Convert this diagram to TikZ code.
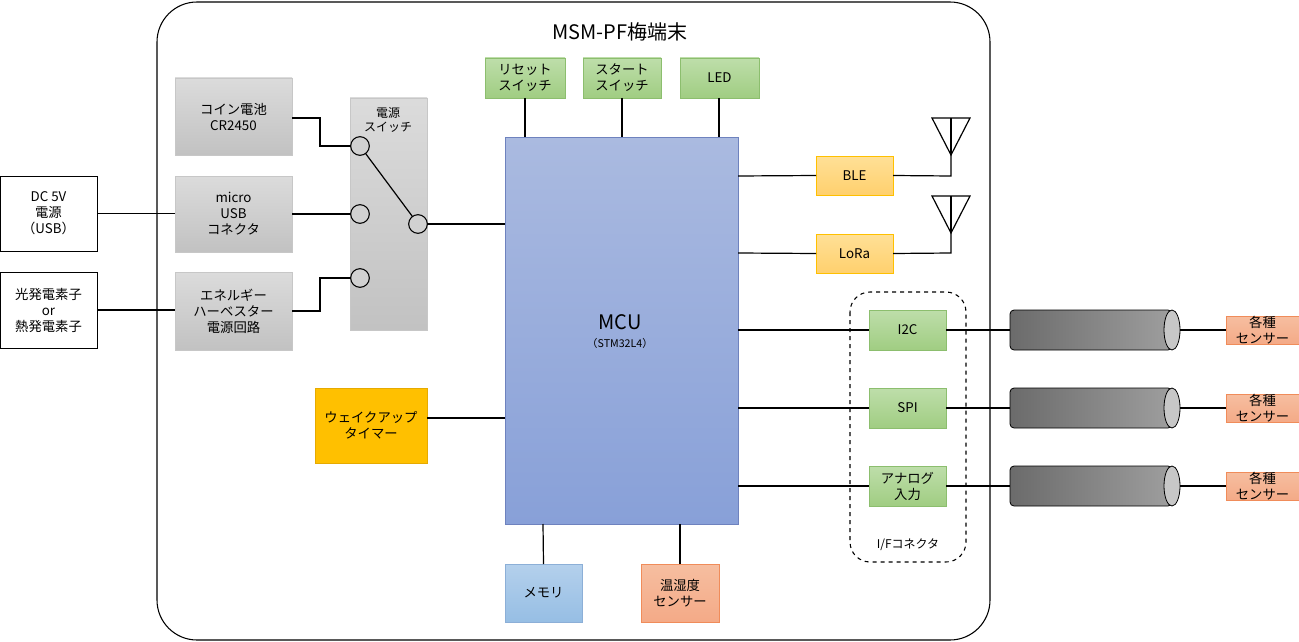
\documentclass[tikz,border=0pt]{standalone}
\usepackage{fontspec}
\setmainfont{Noto Sans CJK JP}
\begin{document}
\begin{tikzpicture}[x=0.75pt,y=-0.75pt,
  base/.style={draw,inner sep=0pt,outer sep=0pt,align=center,font=\fontsize{10}{12}\selectfont,line width=0.6pt},
  gray/.style={base,draw=black!22,top color=black!14,bottom color=black!24},
  wbox/.style={base,draw=black,line width=0.7pt,fill=white},
  green/.style={base,draw=green!45!black!40!white,top color=green!40!black!20!white!95!green,bottom color=green!50!black!35!white,top color={rgb,255:red,190;green,222;blue,170},bottom color={rgb,255:red,160;green,205;blue,130},draw={rgb,255:red,140;green,190;blue,110}},
  yel/.style={base,top color={rgb,255:red,255;green,224;blue,150},bottom color={rgb,255:red,255;green,208;blue,110},draw={rgb,255:red,255;green,192;blue,0}},
  sal/.style={base,top color={rgb,255:red,246;green,190;blue,160},bottom color={rgb,255:red,244;green,170;blue,135},draw={rgb,255:red,240;green,140;blue,90}},
  ln/.style={line width=0.9pt}]
\newcommand\bx[7]{\node[#6,minimum width={(#4-#2)*0.75pt},minimum height={(#5-#3)*0.75pt}] (#1) at ({(#2+#4)/2},{(#3+#5)/2}) {#7};}
\useasboundingbox (0,0) rectangle (1299,642);
% outer
\draw[line width=0.8pt,rounded corners=30pt] (157,2) rectangle (990,640);
\node[font=\fontsize{15}{18}\selectfont] (title) at (620,32) {MSM-PF梅端末};
% left
\bx{dc}{0}{176}{97}{251}{wbox}{DC 5V\\電源\\（USB）}
\bx{pv}{0}{272}{97}{348}{wbox}{光発電素子\\or\\熱発電素子}
\bx{coin}{175}{78}{292}{155}{gray}{コイン電池\\CR2450}
\bx{usb}{175}{176}{292}{252}{gray}{micro\\USB\\コネクタ}
\bx{eh}{175}{272}{292}{350}{gray}{エネルギー\\ハーベスター\\電源回路}
\bx{sw}{350}{98}{427}{330}{gray}{}
\node[font=\fontsize{9}{11}\selectfont,align=center] (swl) at (388,120) {電源\\スイッチ};
\foreach \n/\x/\y in {c1/360/146,c2/360/214,c3/360/278,cp/418/224}
  \node[circle,draw,line width=0.8pt,fill=black!18,minimum size=14pt,inner sep=0pt,outer sep=0pt] (\n) at (\x,\y) {};
\draw[ln] (coin.east|-0,118) -| (320,146) -- (c1.west);
\draw[ln] (eh.east|-0,311) -| (320,278) -- (c3.west);
\draw[ln] (dc.east) -- (usb.west|-dc.east);
\draw[ln] (pv.east) -- (eh.west|-pv.east);
\draw[ln] (usb.east|-c2) -- (c2.west);
\draw[ln] (c1) -- (cp);
% MCU
\bx{mcu}{505}{137}{738}{524}{base}{}
\shade[top color={rgb,255:red,170;green,186;blue,224},bottom color={rgb,255:red,136;green,160;blue,216}] (505,137) rectangle (738,524);
\draw[draw={rgb,255:red,110;green,130;blue,190},line width=0.6pt] (505,137) rectangle (738,524);
\node[font=\fontsize{15}{18}\selectfont] (mcut) at (620,322) {MCU};
\node[font=\fontsize{8}{10}\selectfont] (mcus) at (620,343) {（STM32L4）};
\draw[ln] (cp.east) -- (mcu.west|-cp);
% top
\bx{rst}{485}{58}{565}{98}{green}{リセット\\スイッチ}
\bx{sta}{583}{58}{661}{98}{green}{スタート\\スイッチ}
\bx{led}{680}{58}{759}{98}{green}{LED}
\draw[ln] (525,98) -- (525,137);
\draw[ln] (622,98) -- (622,137);
\draw[ln] (719,98) -- (719,137);
% wake
\bx{wk}{315}{388}{427}{463}{base}{ウェイクアップ\\タイマー}
\node[base,fill={rgb,255:red,255;green,192;blue,0},draw={rgb,255:red,230;green,170;blue,0},minimum width={112*0.75pt},minimum height={75*0.75pt}] (wk) at (371,425.5) {ウェイクアップ\\タイマー};
\draw[ln] (427,418) -- (505,418);
% bottom
\node[base,top color={rgb,255:red,180;green,208;blue,236},bottom color={rgb,255:red,150;green,190;blue,228},draw={rgb,255:red,140;green,175;blue,215},minimum width={77*0.75pt},minimum height={58*0.75pt}] (mem) at (543.5,593) {メモリ};
\bx{tmp}{641}{564}{719}{622}{sal}{温湿度\\センサー}
\draw[ln] (543,524) -- (mem.north);
\draw[ln] (680,524) -- (tmp.north);
% radio
\bx{ble}{816}{156}{893}{195}{yel}{BLE}
\bx{lora}{816}{234}{893}{273}{yel}{LoRa}
\draw[ln] (738,176) -- (ble.west);
\draw[ln] (738,253) -- (lora.west);
\foreach \b/\y/\t in {ble/176/118,lora/253/196}{
  \coordinate (tip\b) at (951,\t+37);
  \draw[ln] (\b.east) -- (951,\y) -- (tip\b);
  \draw[ln] (932,\t) -- (970,\t) -- (tip\b) -- cycle;
  \draw[ln] (951,\t) -- (tip\b);
}
% IF
\draw[dashed,line width=0.8pt,rounded corners=15pt] (850,292) rectangle (966,562);
\node[font=\fontsize{9}{11}\selectfont] (ifl) at (908,545) {I/Fコネクタ};
\bx{i2c}{869}{310}{946}{350}{green}{I2C}
\bx{spi}{869}{388}{946}{428}{green}{SPI}
\bx{ana}{869}{466}{946}{506}{green}{アナログ\\入力}
\foreach \b/\y/\k in {i2c/330/1,spi/408/2,ana/486/3}{
  \draw[ln] (738,\y) -- (\b.west);
  \node[inner sep=0pt,outer sep=0pt,minimum width={170*0.75pt},minimum height={40*0.75pt}] (cy\k) at (1095,\y) {};
  \draw[line width=0.6pt,left color=black!58,right color=black!38,rounded corners=3pt] (1010,\y-20) -- (1172,\y-20) -- (1172,\y+20) -- (1010,\y+20) -- cycle;
  \draw[line width=0.6pt,fill=black!22] (1172,\y) ellipse [x radius=8,y radius=20];
  \bx{s\k}{1226}{\y-20}{1299}{\y+20}{sal}{各種\\センサー}
  \draw[ln] (\b.east) -- (cy\k.west);
  \draw[ln] (cy\k.east) -- (s\k.west);
}
\end{tikzpicture}
\end{document}
